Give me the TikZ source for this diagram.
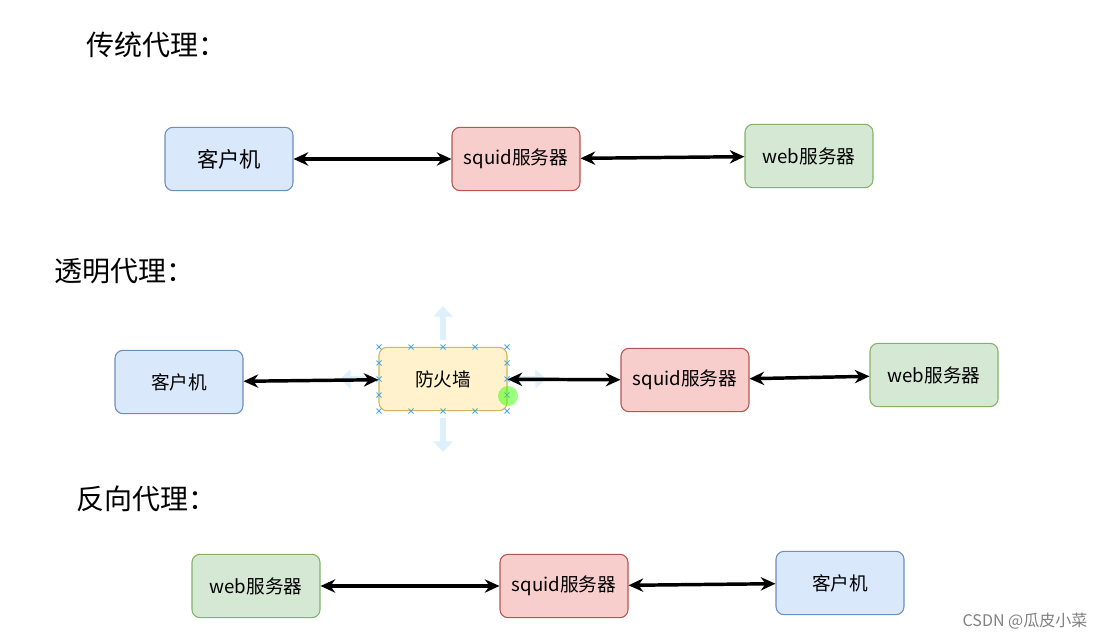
\documentclass[tikz,border=0pt]{standalone}
\usepackage{fontspec}
\setmainfont{Noto Sans CJK SC}
\usetikzlibrary{arrows.meta}
\definecolor{bF}{HTML}{DAE8FC}\definecolor{bD}{HTML}{6C8EBF}
\definecolor{rF}{HTML}{F8CECC}\definecolor{rD}{HTML}{B85450}
\definecolor{gF}{HTML}{D5E8D4}\definecolor{gD}{HTML}{82B366}
\definecolor{yF}{HTML}{FFF2CC}\definecolor{yD}{HTML}{D6B656}
\definecolor{hbc}{HTML}{4AA8E8}\definecolor{hac}{HTML}{DDF0FC}
\begin{document}
\begin{tikzpicture}[x=0.75pt,y=-0.75pt,
 box/.style={draw,rounded corners=6pt,minimum width=96pt,minimum height=47.5pt,inner sep=0pt,font=\fontsize{14}{16}\selectfont,line width=0.8pt},
 cl/.style={box,fill=bF,draw=bD},
 sq/.style={box,fill=rF,draw=rD},
 wb/.style={box,fill=gF,draw=gD},
 fw/.style={box,fill=yF,draw=yD},
 ttl/.style={anchor=west,font=\fontsize{21}{24}\selectfont},
 con/.style={line width=2.6pt,{Stealth[length=11pt,width=10pt]}-{Stealth[length=11pt,width=10pt]}},
 hx/.style={draw=hbc,line width=0.6pt},
 harr/.style={draw=hac,line width=5pt,-{Triangle[length=8pt,width=14pt,fill=hac]}}]
\useasboundingbox (0,0) rectangle (1107,639);
\node[ttl] (t1) at (82,45) {传统代理：};
\node[cl,font=\fontsize{16}{18}\selectfont] (a1) at (229,159) {客户机};
\node[sq] (b1) at (516,159) {squid服务器};
\node[wb] (c1) at (809,156) {web服务器};
\draw[con] (a1) -- (b1);
\draw[con] (b1) -- (c1);

\node[ttl] (t2) at (50,271) {透明代理：};
\node[cl] (a2) at (179,382) {客户机};
\draw[harr] (443,340) -- (443,306);
\draw[harr] (443,418) -- (443,452);
\draw[harr] (372,379) -- (340,379);
\draw[harr] (514,379) -- (546,379);
\node[fw] (f2) at (443,379) {防火墙};
\foreach \x in {379,411,443,475,507}{
 \foreach \y in {347,411}{\draw[hx] (\x-2.5,\y-2.5)--(\x+2.5,\y+2.5) (\x-2.5,\y+2.5)--(\x+2.5,\y-2.5);}}
\foreach \x in {379,507}{
 \foreach \y in {363,379,395}{\draw[hx] (\x-2.5,\y-2.5)--(\x+2.5,\y+2.5) (\x-2.5,\y+2.5)--(\x+2.5,\y-2.5);}}
\node[sq] (b2) at (685,380) {squid服务器};
\node[wb] (c2) at (934,375) {web服务器};
\draw[con] (a2) -- (f2);
\draw[con] (f2) -- (b2);
\draw[con] (b2) -- (c2);
\fill[green!70!lime,opacity=0.5] (508,396) circle (10);

\node[ttl] (t3) at (72,499) {反向代理：};
\node[wb] (a3) at (256,586) {web服务器};
\node[sq] (b3) at (564,586) {squid服务器};
\node[cl] (c3) at (840,583) {客户机};
\draw[con] (a3) -- (b3);
\draw[con] (b3) -- (c3);

\node[anchor=east,text=gray,font=\fontsize{12}{14}\selectfont] (wm) at (1092,621) {CSDN @瓜皮小菜};
\end{tikzpicture}
\end{document}
